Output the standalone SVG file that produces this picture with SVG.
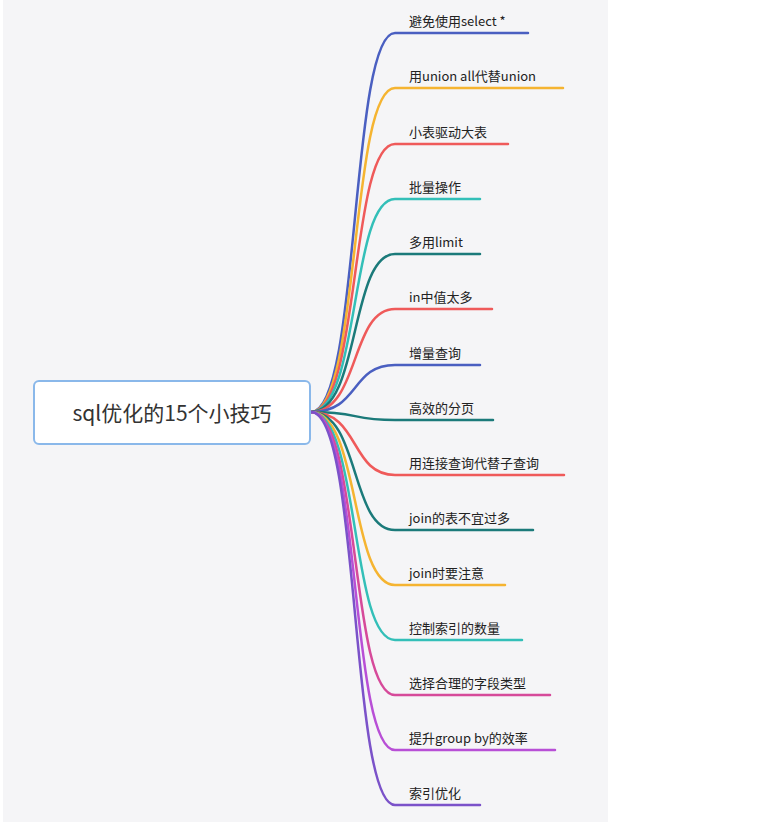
<svg xmlns="http://www.w3.org/2000/svg" width="759" height="822" viewBox="0 0 759 822">
<style>
.b{fill:none;stroke-width:2.5;stroke-linecap:round}
.t{font-family:"Noto Sans CJK SC","Noto Sans",sans-serif;font-size:13px;fill:#222}
</style>
<rect x="0" y="0" width="759" height="822" fill="#fff"/>
<rect x="3" y="0" width="605" height="822" fill="#f5f5f7"/>
<g id="connectors">
<path class="b" stroke="#4a5fc1" d="M311 412 C360 412 350 33 395 33 H528"/>
<path class="b" stroke="#f5b431" d="M311 412 C360 412 350 88 395 88 H563"/>
<path class="b" stroke="#ef5a5a" d="M311 412 C360 412 350 144 395 144 H508"/>
<path class="b" stroke="#33bfb8" d="M311 412 C360 412 350 199 395 199 H480"/>
<path class="b" stroke="#1b7a7a" d="M311 412 C360 412 350 254 395 254 H480"/>
<path class="b" stroke="#ef5a5a" d="M311 412 C360 412 350 309 395 309 H492"/>
<path class="b" stroke="#4a5fc1" d="M311 412 C360 412 350 365 395 365 H480"/>
<path class="b" stroke="#1b7a7a" d="M311 412 C360 412 350 420 395 420 H493"/>
<path class="b" stroke="#ef5a5a" d="M311 412 C360 412 350 475 395 475 H564"/>
<path class="b" stroke="#1b7a7a" d="M311 412 C360 412 350 530 395 530 H533"/>
<path class="b" stroke="#f5b431" d="M311 412 C360 412 350 585 395 585 H505"/>
<path class="b" stroke="#33bfb8" d="M311 412 C360 412 350 640 395 640 H522"/>
<path class="b" stroke="#d64a9a" d="M311 412 C360 412 350 695 395 695 H550"/>
<path class="b" stroke="#b84fd6" d="M311 412 C360 412 350 750 395 750 H555"/>
<path class="b" stroke="#7b52c9" d="M311 412 C360 412 350 805 395 805 H480"/>
</g>
<g id="root">
<rect x="34" y="381" width="276" height="63" rx="5" fill="#fff" stroke="#8ab8ea" stroke-width="2"/>
<text x="172" y="421" text-anchor="middle" font-family="'Noto Sans CJK SC','Noto Sans',sans-serif" font-size="21" fill="#333">sql优化的15个小技巧</text>
</g>
<g id="n1"><text class="t" x="409" y="26">避免使用select *</text></g>
<g id="n2"><text class="t" x="409" y="81">用union all代替union</text></g>
<g id="n3"><text class="t" x="409" y="137">小表驱动大表</text></g>
<g id="n4"><text class="t" x="409" y="192">批量操作</text></g>
<g id="n5"><text class="t" x="409" y="247">多用limit</text></g>
<g id="n6"><text class="t" x="409" y="302">in中值太多</text></g>
<g id="n7"><text class="t" x="409" y="358">增量查询</text></g>
<g id="n8"><text class="t" x="409" y="413">高效的分页</text></g>
<g id="n9"><text class="t" x="409" y="468">用连接查询代替子查询</text></g>
<g id="n10"><text class="t" x="409" y="523">join的表不宜过多</text></g>
<g id="n11"><text class="t" x="409" y="578">join时要注意</text></g>
<g id="n12"><text class="t" x="409" y="633">控制索引的数量</text></g>
<g id="n13"><text class="t" x="409" y="688">选择合理的字段类型</text></g>
<g id="n14"><text class="t" x="409" y="743">提升group by的效率</text></g>
<g id="n15"><text class="t" x="409" y="798">索引优化</text></g>
</svg>
